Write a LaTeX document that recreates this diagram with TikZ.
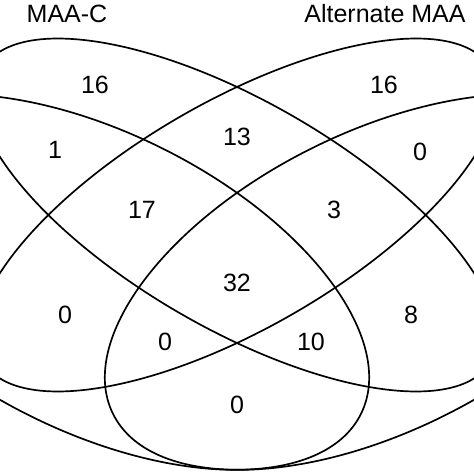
\documentclass[tikz,border=0pt]{standalone}
\usepackage{fontspec}
\setmainfont{Liberation Sans}

\begin{document}
\begin{tikzpicture}

    % Styles for the set outlines and the counts
    \tikzset{venn/.style={draw=black, line width=1.2pt}}
    \tikzset{cnt/.style={font=\fontsize{17.8}{21}\selectfont, inner sep=0pt}}

    % Picture frame, the ellipses run past it
    \useasboundingbox (-5.925,-5.925) rectangle (5.925,5.925);
    \clip (-5.925,-5.925) rectangle (5.925,5.925);

    % Two middle ellipses, same centre
    \draw[venn, shift={(0,0.55)}, rotate=-30] (0,0) ellipse (7.325 and 2.84);
    \draw[venn, shift={(0,0.55)}, rotate=30] (0,0) ellipse (7.325 and 2.84);

    % Two outer ellipses, lower left and lower right
    \draw[venn, shift={(-3.525,-1.125)}, rotate=-26.5] (0,0) ellipse (7.4 and 3.73);
    \draw[venn, shift={(3.525,-1.125)}, rotate=26.5] (0,0) ellipse (7.4 and 3.73);

    % Set names
    \node[cnt] (maac) at (-4.25,5.575) {MAA-C};
    \node[cnt] (altmaa) at (3.7,5.575) {Alternate MAA};

    % Counts, top to bottom
    \node[cnt] (n16a) at (-3.55,3.8) {16};
    \node[cnt] (n16b) at (3.675,3.8) {16};
    \node[cnt] (n1) at (-4.55,2.175) {1};
    \node[cnt] (n13) at (0,2.5) {13};
    \node[cnt] (n0a) at (4.575,2.125) {0};
    \node[cnt] (n17) at (-2.375,0.675) {17};
    \node[cnt] (n3) at (2.425,0.675) {3};
    \node[cnt] (n32) at (0,-1.15) {32};
    \node[cnt] (n0b) at (-4.3,-1.95) {0};
    \node[cnt] (n8) at (4.35,-1.95) {8};
    \node[cnt] (n0c) at (-1.8,-2.625) {0};
    \node[cnt] (n10) at (1.85,-2.625) {10};
    \node[cnt] (n0d) at (0,-4.2) {0};

\end{tikzpicture}
\end{document}
